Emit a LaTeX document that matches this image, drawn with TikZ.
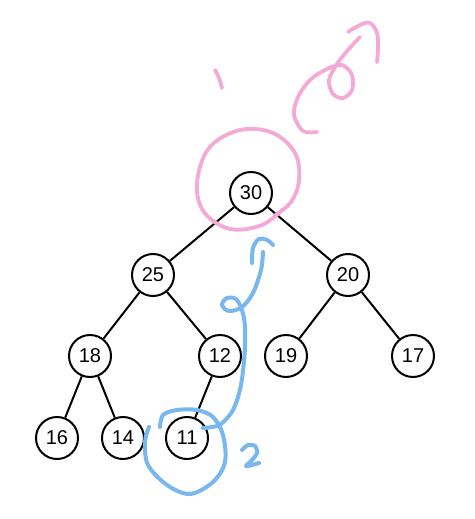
\documentclass[tikz,border=0pt]{standalone}
\usepackage{fontspec}
\setmainfont{Liberation Sans}
\definecolor{pinkink}{RGB}{244,170,214}
\definecolor{blueink}{RGB}{120,184,238}
\begin{document}
\begin{tikzpicture}[x=1pt,y=-1pt,
  hn/.style={circle,draw,line width=2pt,minimum size=42pt,inner sep=0pt,font=\fontsize{20}{20}\selectfont},
  edge/.style={line width=2pt},
  pinkstroke/.style={draw=pinkink,line width=3.8pt,line cap=round,line join=round},
  bluestroke/.style={draw=blueink,line width=4pt,line cap=round,line join=round}]
\useasboundingbox (0,0) rectangle (474,519);
\fill[white] (0,0) rectangle (474,519);
% tree nodes
\node[hn] (n30) at (251,193) {30};
\node[hn] (n25) at (153,275) {25};
\node[hn] (n20) at (348,275) {20};
\node[hn] (n18) at (90,356) {18};
\node[hn] (n12) at (220,356) {12};
\node[hn] (n19) at (286,356) {19};
\node[hn] (n17) at (413,356) {17};
\node[hn] (n16) at (57,438) {16};
\node[hn] (n14) at (123,438) {14};
\node[hn] (n11) at (187,438) {11};
% edges
\draw[edge] (n30) -- (n25);
\draw[edge] (n30) -- (n20);
\draw[edge] (n25) -- (n18);
\draw[edge] (n25) -- (n12);
\draw[edge] (n20) -- (n19);
\draw[edge] (n20) -- (n17);
\draw[edge] (n18) -- (n16);
\draw[edge] (n18) -- (n14);
\draw[edge] (n12) -- (n11);
% pink annotations
\draw[pinkstroke] plot[smooth,tension=0.6] coordinates {(283,209) (262,225) (230,229) (204,212) (197,183) (209,148) (240,130) (273,133) (295,153) (299,180) (291,202) (274,216)};
\draw[pinkstroke] plot[smooth,tension=0.55] coordinates {(317,132) (303,131) (294,115) (298,97) (310,80) (327,69) (342,65) (352,75) (352,90) (343,98) (333,94) (329,80) (337,64) (348,50) (360,37)};
\draw[pinkstroke] plot[smooth,tension=0.6] coordinates {(348,32) (360,25) (370,23) (377,33) (378,48) (377,62)};
\draw[pinkstroke] plot[smooth,tension=0.6] coordinates {(215,70) (219,78) (222,88)};
% blue annotations
\draw[bluestroke] plot[smooth,tension=0.55] coordinates {(160,427) (163,415) (177,410) (197,410) (213,417) (223,435) (225,462) (213,482) (190,494) (167,485) (148,465) (145,442) (149,427)};
\draw[bluestroke] plot[smooth,tension=0.55] coordinates {(203,428) (212,427) (221,424) (233,410) (241,385) (245,347) (244,318) (237,300) (227,298) (222,305) (229,311) (242,307) (253,293) (261,270) (263,252)};
\draw[bluestroke] plot[smooth,tension=0.6] coordinates {(252,263) (253,248) (259,239) (267,240) (273,245)};
\draw[bluestroke] plot[smooth,tension=0.5] coordinates {(242,450) (248,445) (255,446) (257,453) (252,460) (246,466) (252,465) (259,463)};
\end{tikzpicture}
\end{document}
